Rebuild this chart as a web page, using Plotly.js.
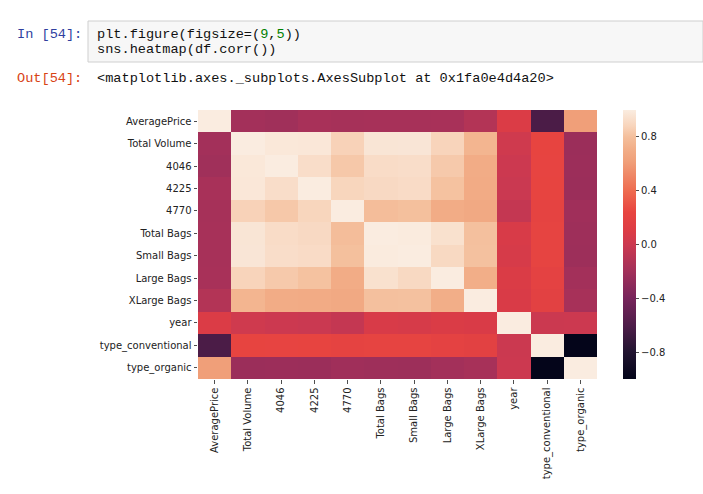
<!DOCTYPE html>
<html>
<head>
<meta charset="utf-8">
<script src="https://cdn.plot.ly/plotly-3.0.1.min.js"></script>
<style>
  html, body { margin: 0; padding: 0; background: #ffffff; }
  #chart { width: 703px; height: 494px; }
</style>
</head>
<body>
<div id="chart"></div>
<script>
// Column / row names of the correlation matrix
const labels = ["AveragePrice", "Total Volume", "4046", "4225", "4770", "Total Bags",
  "Small Bags", "Large Bags", "XLarge Bags", "year", "type_conventional", "type_organic"];

// Correlation rows (df.corr() of the avocado table)
const rowAveragePrice = [1.000, -0.193, -0.208, -0.173, -0.179, -0.177, -0.175, -0.173, -0.118, 0.093, -0.616, 0.616];
const rowTotalVolume  = [-0.193, 1.000, 0.978, 0.974, 0.872, 0.963, 0.967, 0.881, 0.747, 0.017, 0.232, -0.232];
const row4046         = [-0.208, 0.978, 1.000, 0.926, 0.833, 0.920, 0.925, 0.839, 0.699, 0.003, 0.226, -0.226];
const row4225         = [-0.173, 0.974, 0.926, 1.000, 0.888, 0.906, 0.916, 0.810, 0.689, -0.010, 0.232, -0.232];
const row4770         = [-0.179, 0.872, 0.833, 0.888, 1.000, 0.792, 0.803, 0.698, 0.680, -0.037, 0.210, -0.210];
const rowTotalBags    = [-0.177, 0.963, 0.920, 0.906, 0.792, 1.000, 0.994, 0.943, 0.804, 0.072, 0.218, -0.218];
const rowSmallBags    = [-0.175, 0.967, 0.925, 0.916, 0.803, 0.994, 1.000, 0.903, 0.807, 0.064, 0.221, -0.221];
const rowLargeBags    = [-0.173, 0.881, 0.839, 0.810, 0.698, 0.943, 0.903, 1.000, 0.711, 0.088, 0.193, -0.193];
const rowXLargeBags   = [-0.118, 0.747, 0.699, 0.689, 0.680, 0.804, 0.807, 0.711, 1.000, 0.081, 0.175, -0.175];
const rowYear         = [0.093, 0.017, 0.003, -0.010, -0.037, 0.072, 0.064, 0.088, 0.081, 1.000, -0.003, 0.003];
const rowConventional = [-0.616, 0.232, 0.226, 0.232, 0.210, 0.218, 0.221, 0.193, 0.175, -0.003, 1.000, -1.000];
const rowOrganic      = [0.616, -0.232, -0.226, -0.232, -0.210, -0.218, -0.221, -0.193, -0.175, 0.003, -1.000, 1.000];

const corrRows = [rowAveragePrice, rowTotalVolume, row4046, row4225, row4770, rowTotalBags,
  rowSmallBags, rowLargeBags, rowXLargeBags, rowYear, rowConventional, rowOrganic];

// Colour bar ticks
const cbarTickVals = [-0.8, -0.4, 0.0, 0.4, 0.8];
const cbarTickText = ["\u22120.8", "\u22120.4", "0.0", "0.4", "0.8"];

// "rocket"-style sequential colormap (dark purple -> red -> cream)
const rocket = [
  [0.000, "#04051a"],
  [0.100, "#211430"],
  [0.190, "#4a1c47"],
  [0.300, "#77245b"],
  [0.400, "#a2305a"],
  [0.500, "#cc3950"],
  [0.550, "#dc3c45"],
  [0.620, "#e84540"],
  [0.700, "#ee6c50"],
  [0.810, "#f0a07a"],
  [0.855, "#f2ae88"],
  [0.900, "#f4bf9c"],
  [0.940, "#f8d4bb"],
  [1.000, "#faece0"]
];

// page geometry in pixels
const W = 703, H = 494;
const L = 198, R = 597, T = 110, B = 379;   // heatmap cell area
const PR = 680;                              // right edge of the paper area
const px = x => (x - L) / (PR - L);
const py = y => (B - y) / (B - T);

const mono = "Liberation Mono, Courier New, monospace";
const sans = "DejaVu Sans, sans-serif";
const ink = "#222222";

const trace = {
  type: "heatmap",
  z: corrRows,
  x: labels,
  y: labels,
  zmin: -1,
  zmax: 1,
  colorscale: rocket,
  colorbar: {
    x: px(623), xanchor: "left",
    y: 0.5, yanchor: "middle",
    len: 1, lenmode: "fraction",
    thickness: 13, thicknessmode: "pixels",
    outlinewidth: 0,
    ticks: "outside", ticklen: 3.5, tickwidth: 0.8, tickcolor: ink,
    tickvals: cbarTickVals, ticktext: cbarTickText,
    tickfont: { family: sans, size: 10, color: ink },
    xpad: 0, ypad: 0
  }
};

const layout = {
  width: W, height: H,
  margin: { l: L, r: W - PR, t: T, b: H - B, pad: 0 },
  paper_bgcolor: "#ffffff",
  plot_bgcolor: "#ffffff",
  showlegend: false,
  xaxis: {
    type: "category",
    domain: [0, px(R)],
    tickangle: -90,
    ticks: "outside", ticklen: 3.5, tickwidth: 0.8, tickcolor: ink,
    tickfont: { family: sans, size: 10, color: ink },
    showgrid: false, zeroline: false, showline: false,
    automargin: false
  },
  yaxis: {
    type: "category",
    autorange: "reversed",
    ticks: "outside", ticklen: 3.5, tickwidth: 0.8, tickcolor: ink,
    tickfont: { family: sans, size: 10, color: ink },
    showgrid: false, zeroline: false, showline: false,
    automargin: false
  },
  shapes: [
    {
      type: "rect", xref: "paper", yref: "paper",
      x0: px(88), x1: px(703), y0: py(62), y1: py(21),
      fillcolor: "#f7f7f7", line: { color: "#cfcfcf", width: 1 }, layer: "below"
    }
  ],
  annotations: [
    {
      xref: "paper", yref: "paper", x: px(84), y: py(34),
      xanchor: "right", yanchor: "middle", showarrow: false,
      text: "In [54]:", font: { family: mono, size: 13.6, color: "#303f9f" }
    },
    {
      xref: "paper", yref: "paper", x: px(95), y: py(34),
      xanchor: "left", yanchor: "middle", showarrow: false,
      text: 'plt.figure(figsize=(<span style="color:#008000">9</span>,<span style="color:#008000">5</span>))',
      font: { family: mono, size: 13.6, color: "#111111" }
    },
    {
      xref: "paper", yref: "paper", x: px(95), y: py(50),
      xanchor: "left", yanchor: "middle", showarrow: false,
      text: "sns.heatmap(df.corr())",
      font: { family: mono, size: 13.6, color: "#111111" }
    },
    {
      xref: "paper", yref: "paper", x: px(84), y: py(78),
      xanchor: "right", yanchor: "middle", showarrow: false,
      text: "Out[54]:", font: { family: mono, size: 13.6, color: "#d84315" }
    },
    {
      xref: "paper", yref: "paper", x: px(95), y: py(78),
      xanchor: "left", yanchor: "middle", showarrow: false,
      text: "&lt;matplotlib.axes._subplots.AxesSubplot at 0x1fa0e4d4a20&gt;",
      font: { family: mono, size: 13.6, color: "#111111" }
    }
  ]
};

Plotly.newPlot("chart", [trace], layout, { displayModeBar: false, staticPlot: true });
</script>
</body>
</html>
